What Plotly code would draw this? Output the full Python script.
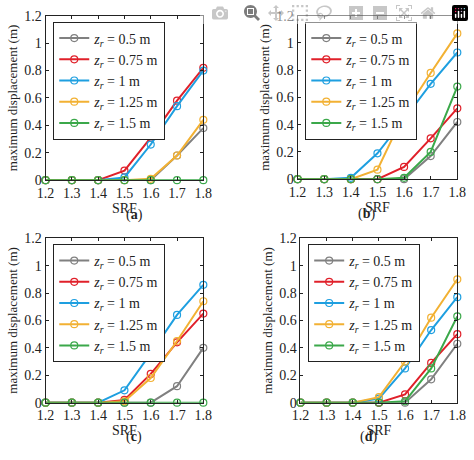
import plotly.graph_objects as go

srf = [1.2, 1.3, 1.4, 1.5, 1.6, 1.7, 1.8]
names = ["0.5", "0.75", "1", "1.25", "1.5"]
colors = ["#808080", "#e0202a", "#1e9fe0", "#f2b133", "#3ba84a"]

panel_a = [
    [0, 0, 0, 0, 0, 0.18, 0.38],
    [0, 0, 0, 0.07, 0.31, 0.58, 0.82],
    [0, 0, 0, 0.02, 0.26, 0.54, 0.80],
    [0, 0, 0, 0, 0.01, 0.18, 0.44],
    [0, 0, 0, 0, 0, 0, 0],
]
panel_b = [
    [0, 0, 0, 0, 0, 0.17, 0.42],
    [0, 0, 0, 0, 0.09, 0.30, 0.52],
    [0, 0, 0.01, 0.19, 0.44, 0.70, 0.93],
    [0, 0, 0, 0.07, 0.48, 0.78, 1.07],
    [0, 0, 0, 0, 0.01, 0.20, 0.68],
]
panel_c = [
    [0, 0, 0, 0, 0, 0.12, 0.40],
    [0, 0, 0, 0.02, 0.21, 0.44, 0.65],
    [0, 0, 0, 0.09, 0.36, 0.64, 0.86],
    [0, 0, 0, 0.01, 0.18, 0.45, 0.74],
    [0, 0, 0, 0, 0, 0, 0],
]
panel_d = [
    [0, 0, 0, 0, 0, 0.17, 0.43],
    [0, 0, 0, 0, 0.06, 0.29, 0.50],
    [0, 0, 0, 0.03, 0.25, 0.53, 0.77],
    [0, 0, 0, 0.04, 0.30, 0.62, 0.90],
    [0, 0, 0, 0, 0.01, 0.25, 0.63],
]
panels = [panel_a, panel_b, panel_c, panel_d]
letters = ["a", "b", "c", "d"]

W, H = 474, 460
# plot area boxes in pixels: left, right, top, bottom
boxes = [(38, 202, 9, 179), (300, 466, 9, 178), (38, 202, 239, 409), (303, 466, 239, 409)]
font = "Liberation Serif"

fig = go.Figure()
layout = dict(width=W, height=H, margin=dict(l=0, r=0, t=0, b=0),
              plot_bgcolor="white", paper_bgcolor="white",
              font=dict(family=font, size=14, color="#222"))
annotations = []

for i, (data, box) in enumerate(zip(panels, boxes)):
    l, r, t, b = box
    k = "" if i == 0 else str(i + 1)
    leg = "legend" + k
    for j, ys in enumerate(data):
        fig.add_trace(go.Scatter(
            x=srf, y=ys, mode="lines+markers",
            name="<i>z<sub>r</sub></i> = " + names[j] + " m",
            line=dict(color=colors[j], width=2),
            marker=dict(symbol="circle-open", size=7, color=colors[j], line=dict(width=1.2)),
            xaxis="x" + k, yaxis="y" + k, legend=leg, cliponaxis=False))
    common = dict(showline=True, mirror="ticks", linecolor="#222", linewidth=1,
                  ticks="inside", ticklen=3, tickcolor="#222", showgrid=False,
                  zeroline=False, tickfont=dict(size=14))
    layout["xaxis" + k] = dict(common, domain=[l / W, r / W], anchor="y" + k,
                               range=[1.2, 1.8], dtick=0.1, tickformat=".1f",
                               title=dict(text="SRF", standoff=0, font=dict(size=14)))
    layout["yaxis" + k] = dict(common, domain=[1 - b / H, 1 - t / H], anchor="x" + k,
                               range=[0, 1.2], tickvals=[0, 0.2, 0.4, 0.6, 0.8, 1, 1.2],
                               ticktext=["0", "0.2", "0.4", "0.6", "0.8", "1", "1.2"],
                               title=dict(text="maximum displacement (m)", standoff=3,
                                          font=dict(size=13)))
    layout[leg] = dict(x=(l + 8) / W, y=1 - (t + 6) / H, xanchor="left", yanchor="top",
                       bgcolor="white", bordercolor="#222", borderwidth=1,
                       font=dict(family=font, size=14), tracegroupgap=0,
                       itemwidth=30)
    annotations.append(dict(text="(<b>" + letters[i] + "</b>)", x=(l + r) / 2 / W,
                            y=1 - (b + 36) / H, xref="paper", yref="paper",
                            showarrow=False, font=dict(size=14), yanchor="middle"))

layout["annotations"] = annotations
fig.update_layout(**layout)
fig.write_html("out.html")

# drop the default body margin so the figure fits the window without scrollbars
with open("out.html", encoding="utf-8") as f:
    html = f.read()
html = html.replace("<body>", '<body style="margin:0;overflow:hidden">', 1)
with open("out.html", "w", encoding="utf-8") as f:
    f.write(html)
